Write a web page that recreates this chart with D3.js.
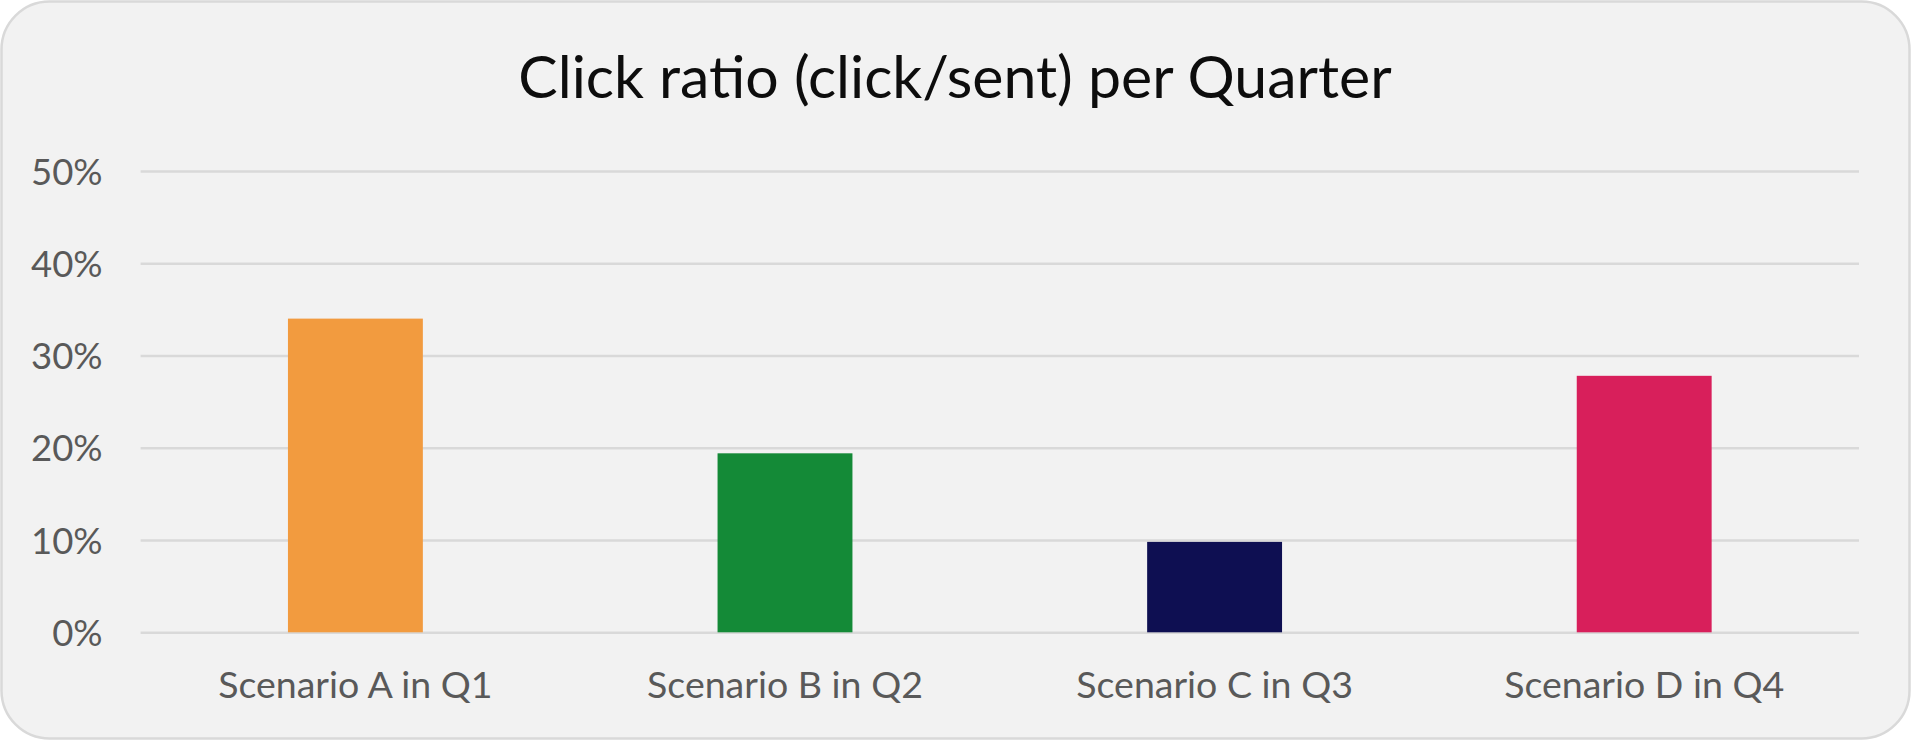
<!DOCTYPE html>
<html>
<head>
<meta charset="utf-8">
<script src="https://cdn.jsdelivr.net/npm/d3@7"></script>
<style>
  html, body { margin: 0; padding: 0; background: #ffffff; }
  svg { display: block; }
</style>
</head>
<body>
<svg id="chart" width="1911" height="740"></svg>
<script>
const title = "Click ratio (click/sent) per Quarter";
const categories = ["Scenario A in Q1", "Scenario B in Q2", "Scenario C in Q3", "Scenario D in Q4"];
const values = [0.34, 0.194, 0.098, 0.278];
const colors = ["#F29B3F", "#148A37", "#0E0F52", "#D81F5B"];
const yTicks = [0, 0.1, 0.2, 0.3, 0.4, 0.5];

const W = 1911, H = 740;
const margin = { left: 140.6, right: W - 1859, top: 171, bottom: H - 632.3 };
const svg = d3.select("#chart");
const font = "Lato, 'Open Sans', sans-serif";

svg.append("rect")
  .attr("x", 1.5).attr("y", 1.5)
  .attr("width", W - 3).attr("height", H - 3)
  .attr("rx", 48).attr("ry", 48)
  .attr("fill", "#F2F2F2")
  .attr("stroke", "#D9D9D9")
  .attr("stroke-width", 2.5);

const x = d3.scaleBand()
  .domain(categories)
  .range([margin.left, W - margin.right])
  .paddingInner(0.686)
  .paddingOuter(0.343);

const y = d3.scaleLinear()
  .domain([0, 0.5])
  .range([H - margin.bottom, margin.top]);

// gridlines
const yAxis = d3.axisLeft(y)
  .tickValues(yTicks)
  .tickFormat(d3.format(".0%"))
  .tickSize(-(W - margin.left - margin.right))
  .tickPadding(38);

const gy = svg.append("g")
  .attr("transform", `translate(${margin.left},0)`)
  .call(yAxis);
gy.select(".domain").remove();
gy.selectAll(".tick line").attr("stroke", "#D9D9D9").attr("stroke-width", 2.5);
gy.selectAll(".tick text")
  .attr("fill", "#595959")
  .attr("font-family", font)
  .attr("font-size", 36.5)
  .attr("dy", "0.36em");

// bars
svg.append("g").selectAll("rect")
  .data(values)
  .join("rect")
  .attr("x", (d, i) => x(categories[i]))
  .attr("width", x.bandwidth())
  .attr("y", d => y(d))
  .attr("height", d => y(0) - y(d))
  .attr("fill", (d, i) => colors[i]);

// x axis labels
const xAxis = d3.axisBottom(x).tickSize(0).tickPadding(39);
const gx = svg.append("g")
  .attr("transform", `translate(0,${H - margin.bottom})`)
  .call(xAxis);
gx.select(".domain").remove();
gx.selectAll(".tick text")
  .attr("fill", "#595959")
  .attr("font-family", font)
  .attr("font-size", 37.5);

// title
svg.append("text")
  .attr("x", 955)
  .attr("y", 98)
  .attr("text-anchor", "middle")
  .attr("fill", "#0D0D0D")
  .attr("font-family", font)
  .attr("font-size", 59)
  .text(title);
</script>
</body>
</html>
